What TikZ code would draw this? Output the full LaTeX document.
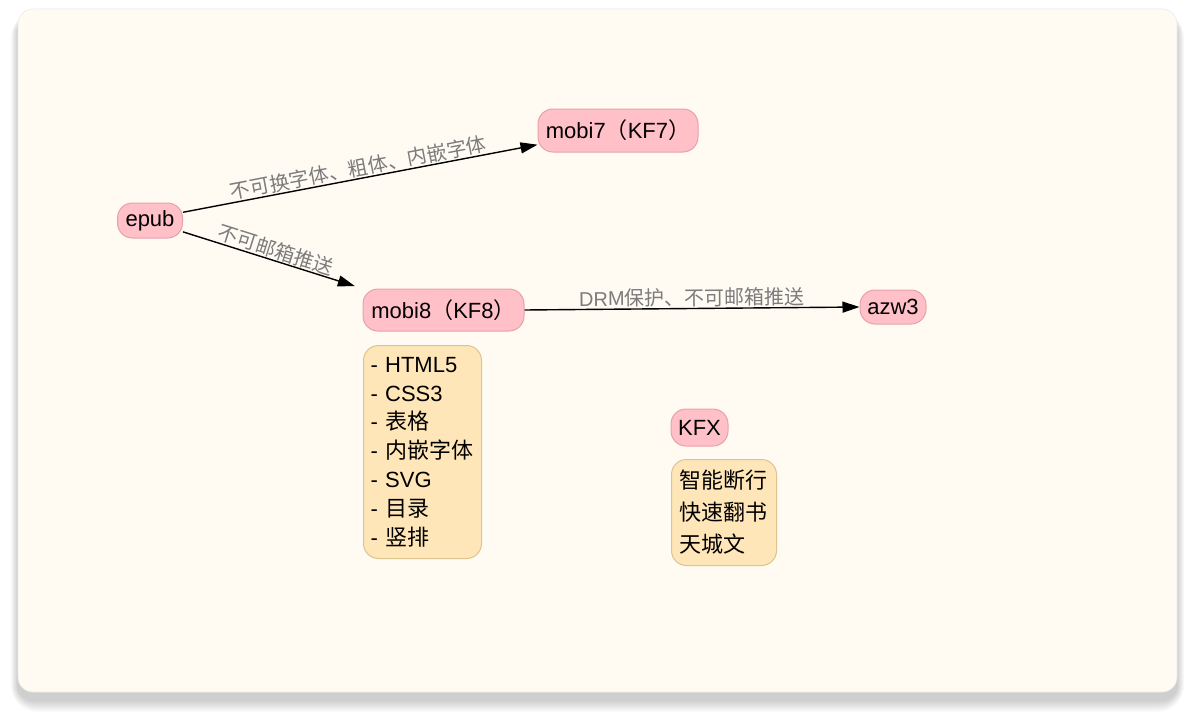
\documentclass[tikz,border=0pt]{standalone}
\usepackage{fontspec}
\setmainfont{Liberation Sans}
\newfontfamily\cjk{Noto Sans CJK SC}
\usetikzlibrary{arrows.meta}
\definecolor{cardbg}{HTML}{FFFBF3}
\definecolor{pinkF}{HTML}{FFC0C8}
\definecolor{pinkB}{HTML}{E6A2AB}
\definecolor{yelF}{HTML}{FFE6B8}
\definecolor{yelB}{HTML}{DCC48E}
\definecolor{lblgray}{HTML}{7C7C7C}
\tikzset{
  pk/.style={draw=pinkB, fill=pinkF, rounded corners=15pt, line width=1pt, inner sep=0pt, font=\fontsize{22}{24}\selectfont},
  yb/.style={draw=yelB, fill=yelF, rounded corners=15pt, line width=1pt, inner ysep=0pt, align=left},
  arr/.style={-{Triangle[length=17pt,width=11pt]}, line width=1.4pt, black},
  lbl/.style={text=lblgray, font=\fontsize{20}{22}\selectfont, sloped, above, inner sep=1pt}
}
\begin{document}
\begin{tikzpicture}[x=1pt,y=-1pt]
\useasboundingbox (0,0) rectangle (1195,720);
\fill[white] (0,0) rectangle (1195,720);
% shadow
\foreach \i in {1,...,12} {
  \fill[black, opacity=0.014, rounded corners={15pt+\i pt}] ({18-0.6*\i},{9-0.5*\i+8}) rectangle ({1177+0.6*\i},{692+\i+8});
}
\fill[cardbg, draw=black!8, line width=0.6pt, rounded corners=15pt] (18,9) rectangle (1177,692);

% nodes
\node[pk, minimum width=65pt, minimum height=35pt] (epub) at (150,220.5) {epub};
\node[pk, minimum width=160pt, minimum height=43pt] (mobi7) at (618,130.5) {mobi7{\cjk（}KF7{\cjk）}};
\node[pk, minimum width=161pt, minimum height=42pt] (mobi8) at (443.5,310) {mobi8{\cjk（}KF8{\cjk）}};
\node[pk, minimum width=66pt, minimum height=34pt] (azw3) at (893,307) {azw3};
\node[pk, minimum width=57pt, minimum height=37pt] (kfx) at (699.5,427.5) {KFX};

\node[yb, anchor=north west, minimum height=213pt, text width=104pt, inner xsep=7pt,
      font=\fontsize{22}{28.8}\selectfont] (feat8) at (363,345)
  {- HTML5\\- CSS3\\- {\cjk 表格}\\- {\cjk 内嵌字体}\\- SVG\\- {\cjk 目录}\\- {\cjk 竖排}};
\node[yb, anchor=north west, minimum height=106pt, text width=89pt, inner xsep=8pt,
      font=\fontsize{22}{32}\selectfont] (featk) at (671,459)
  {{\cjk 智能断行}\\{\cjk 快速翻书}\\{\cjk 天城文}};

% edges
\draw[arr] (epub.14) -- node[lbl, midway] {\cjk 不可换字体、粗体、内嵌字体} (mobi7.190);
\draw[arr, shorten >=8pt] (epub.-19) -- node[lbl, pos=0.5] {\cjk 不可邮箱推送} (mobi8.north west);
\draw[arr] (mobi8.east) -- node[lbl, midway] {DRM{\cjk 保护、不可邮箱推送}} (azw3.west);
\end{tikzpicture}
\end{document}
